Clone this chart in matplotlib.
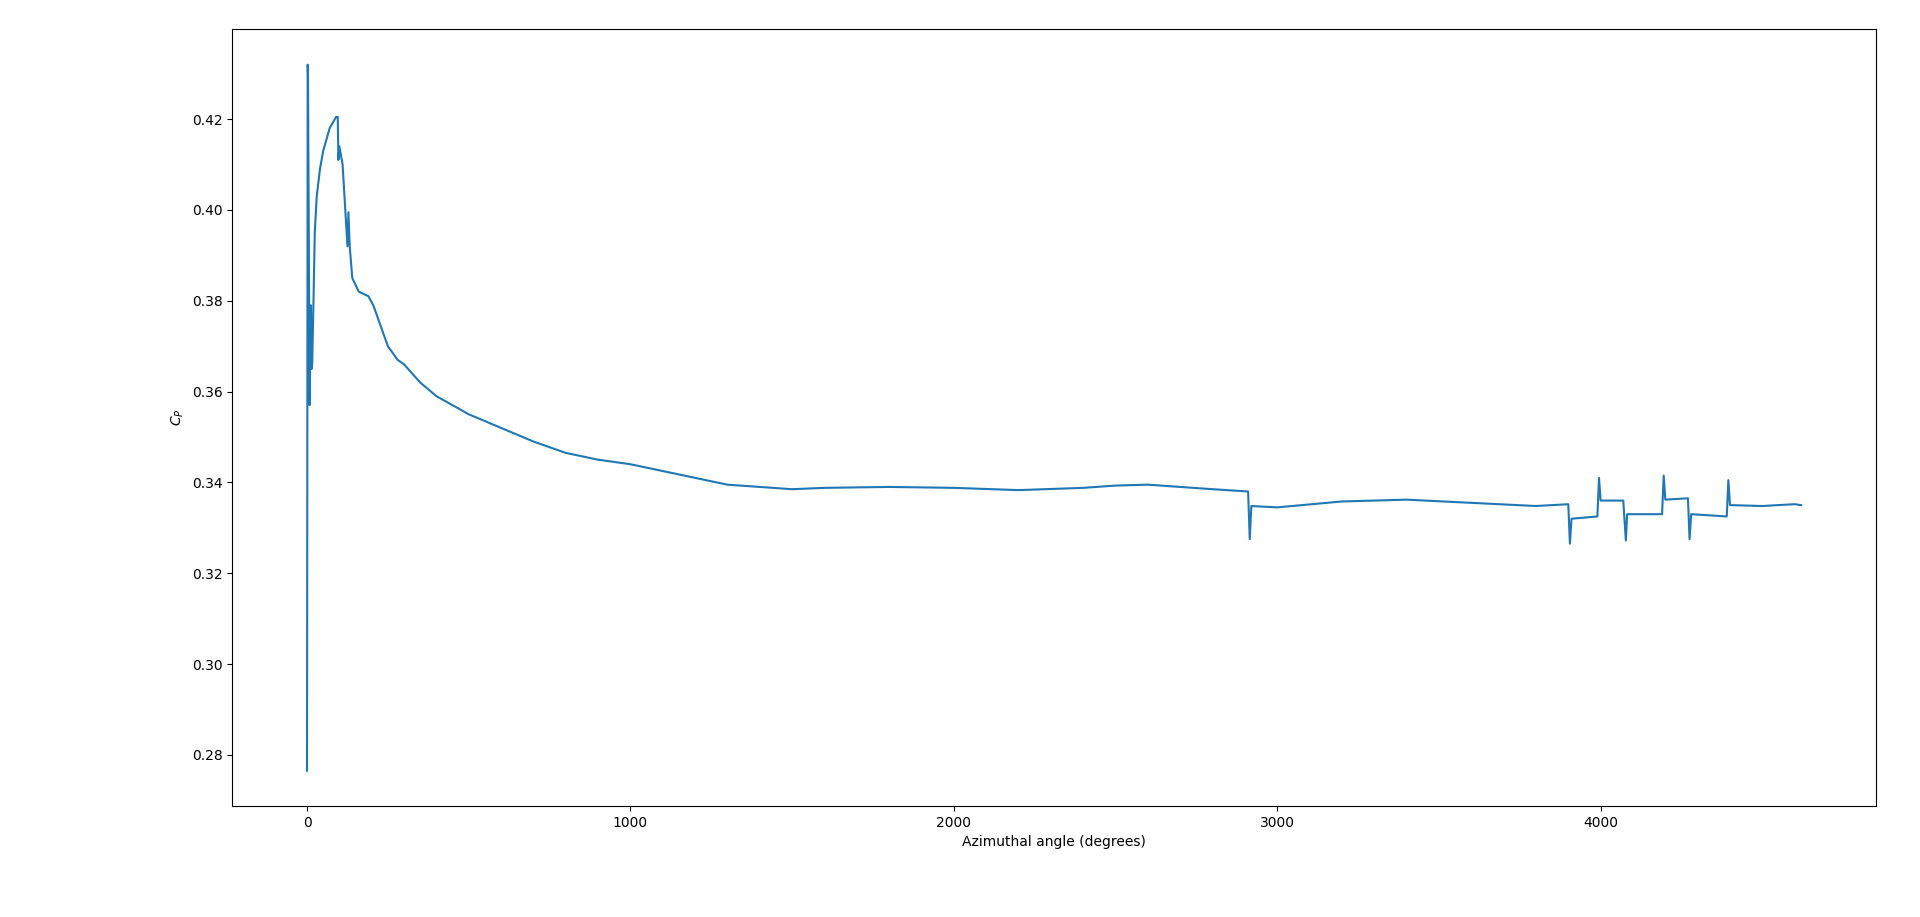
import matplotlib
matplotlib.use("Agg")
import matplotlib.pyplot as plt

# azimuthal angle (deg) and power coefficient
angle = [0, 2, 3, 8, 12, 14, 16, 20, 24, 30, 40, 50, 70, 90, 95, 97, 100, 110, 125, 128, 132,
         140, 160, 190, 205, 230, 250, 280, 300, 350, 400, 500, 600, 700, 800, 900, 1000,
         1100, 1200, 1300, 1400, 1500, 1600, 1800, 2000, 2200, 2400, 2500, 2600,
         2800, 2910, 2915, 2920, 3000, 3200, 3400, 3600, 3800, 3900, 3905, 3910,
         3990, 3995, 4000, 4070, 4078, 4082, 4190, 4195, 4200, 4270, 4275, 4280,
         4390, 4395, 4400, 4500, 4600, 4620]
cp = [0.2765, 0.432, 0.43, 0.357, 0.379, 0.365, 0.366, 0.38, 0.395, 0.403, 0.409, 0.413,
      0.418, 0.4205,
      0.4205, 0.411, 0.414, 0.41, 0.392, 0.3995, 0.392,
      0.385, 0.382, 0.381, 0.379, 0.374, 0.370, 0.367, 0.366, 0.362, 0.359, 0.355,
      0.352, 0.349, 0.3465, 0.345, 0.344,
      0.3425, 0.341, 0.3395, 0.339, 0.3385, 0.3388, 0.339, 0.3388, 0.3383, 0.3388,
      0.3393, 0.3395,
      0.3385, 0.338, 0.3275, 0.3348, 0.3345, 0.3358, 0.3362, 0.3355, 0.3348, 0.3352,
      0.3265, 0.332,
      0.3325, 0.341, 0.336, 0.336, 0.3272, 0.333, 0.333, 0.3415, 0.3362, 0.3365,
      0.3275, 0.333,
      0.3325, 0.3405, 0.335, 0.3348, 0.3352, 0.335]

fig = plt.figure(figsize=(19.2, 9.17), dpi=100)
ax = fig.add_axes([0.121, 0.121, 0.856, 0.847])
ax.plot(angle, cp, color="#1f77b4", lw=1.5)
ax.set_xlabel("Azimuthal angle (degrees)")
ax.set_ylabel("$C_P$")
fig.savefig("out.png")
